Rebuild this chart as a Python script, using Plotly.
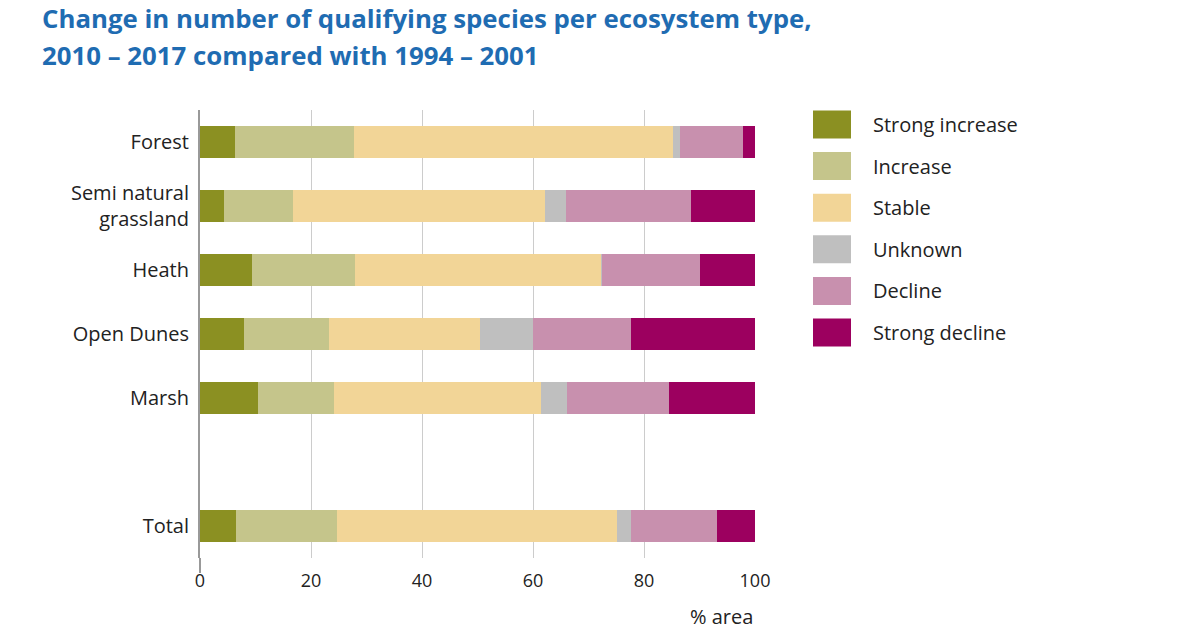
import plotly.graph_objects as go

categories = ["Forest", "Semi natural<br>grassland", "Heath", "Open Dunes", "Marsh", "Total"]
cat_pos = [0, 1, 2, 3, 4, 6]
series_names = ["Strong increase", "Increase", "Stable", "Unknown", "Decline", "Strong decline"]
strong_increase = [6.3, 4.4, 9.4, 7.9, 10.4, 6.4]
increase = [21.5, 12.3, 18.6, 15.3, 13.8, 18.2]
stable = [57.5, 45.4, 44.3, 27.3, 37.3, 50.6]
unknown = [1.1, 3.9, 0.2, 9.5, 4.6, 2.4]
decline = [11.5, 22.5, 17.6, 17.6, 18.4, 15.5]
strong_decline = [2.1, 11.5, 9.9, 22.4, 15.5, 6.9]
x_ticks = [0, 20, 40, 60, 80, 100]
title_lines = ["Change in number of qualifying species per ecosystem type,",
               "2010 – 2017 compared with 1994 – 2001"]

series_values = [strong_increase, increase, stable, unknown, decline, strong_decline]
colors = ["#8b9022", "#c5c58b", "#f2d597", "#bfbfbf", "#c890ae", "#9c005f"]

FONT = "Open Sans"
fig = go.Figure()
for name, vals, col in zip(series_names, series_values, colors):
    fig.add_trace(go.Bar(
        x=vals, y=cat_pos, name=name, orientation="h",
        marker=dict(color=col, line=dict(width=0)),
        width=0.5, showlegend=False, hoverinfo="x+name",
    ))

fig.update_layout(
    barmode="stack",
    width=1200, height=630,
    margin=dict(l=200, r=445, t=110, b=72),
    plot_bgcolor="white", paper_bgcolor="white",
    font=dict(family=FONT, color="#222222", size=20),
    xaxis=dict(range=[0, 100], tickvals=x_ticks, showgrid=True, gridcolor="#cccccc",
               gridwidth=1, zeroline=False, showline=False, ticks="",
               ticklabelstandoff=10, tickfont=dict(size=18, color="#222222")),
    yaxis=dict(range=[6.5, -0.5], tickvals=cat_pos, ticktext=categories,
               showgrid=False, zeroline=False, showline=True, linecolor="#999999",
               linewidth=2, ticks="", ticklabelstandoff=5,
               tickfont=dict(size=20, color="#222222")),
)

px_w = 1200 - 200 - 445
px_h = 630 - 110 - 72
def px_to_paper_x(px):
    return (px - 200) / px_w
def px_to_paper_y(py):
    return (630 - 72 - py) / px_h

# title (two lines)
for line, cy in zip(title_lines, [18, 55]):
    fig.add_annotation(
        text="<b>" + line + "</b>",
        xref="paper", yref="paper", x=px_to_paper_x(40), y=px_to_paper_y(cy),
        xanchor="left", yanchor="middle", align="left", showarrow=False,
        font=dict(family=FONT, size=25.8, color="#1f6cb2"),
    )

# extend left axis line slightly below plot area
fig.add_shape(type="line", xref="paper", yref="paper", x0=0, x1=0,
              y0=px_to_paper_y(573), y1=0, line=dict(color="#999999", width=2))

# "% area" axis label
fig.add_annotation(text="% area", xref="paper", yref="paper", x=1, y=px_to_paper_y(616),
                   xanchor="right", yanchor="middle", showarrow=False,
                   font=dict(size=20, color="#222222"))

# manual legend
for i, (name, col) in enumerate(zip(series_names, colors)):
    cy = 124.5 + i * 41.6
    fig.add_shape(type="rect", xref="paper", yref="paper",
                  x0=px_to_paper_x(813), x1=px_to_paper_x(851),
                  y0=px_to_paper_y(cy + 14), y1=px_to_paper_y(cy - 14),
                  fillcolor=col, line=dict(width=0))
    fig.add_annotation(text=name, xref="paper", yref="paper",
                       x=px_to_paper_x(871), y=px_to_paper_y(cy),
                       xanchor="left", yanchor="middle", showarrow=False,
                       font=dict(size=20, color="#222222"))

fig.write_html("out.html")
